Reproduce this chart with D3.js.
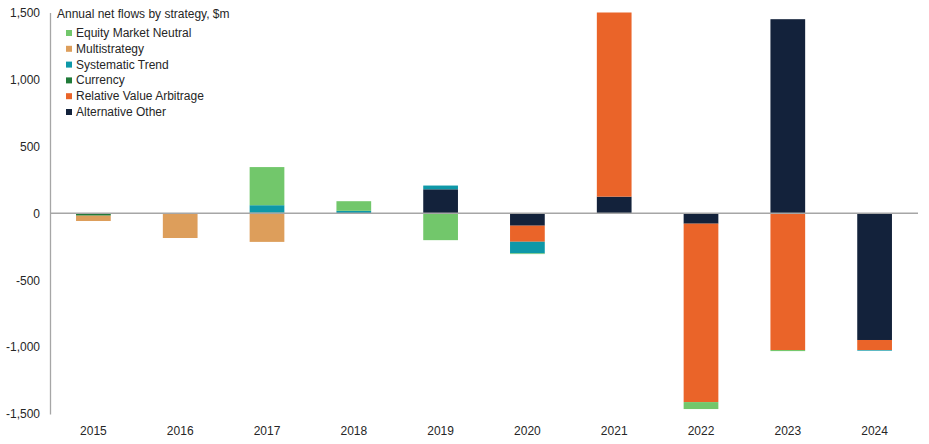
<!DOCTYPE html>
<html>
<head>
    <meta charset="utf-8">
    <script src="https://cdn.jsdelivr.net/npm/d3@7"></script>
    <style>
        body { margin: 0; background: #fff; }
        text { font-family: "Liberation Sans", Arial, sans-serif; fill: #262626; }
    </style>
</head>
<body>
    <svg width="929" height="444"></svg>
    <script>
        // Years on the x axis
        const years = ["2015", "2016", "2017", "2018", "2019", "2020", "2021", "2022", "2023", "2024"];

        // Net flows per strategy, $m
        const equityMarketNeutral = [0, 0, 285, 72, -201, -5, 0, -52, -8, 0];
        const multistrategy = [-40, -185, -214, 0, 0, 0, 0, 0, 0, 0];
        const systematicTrend = [0, 0, 55, 18, 28, -87, 0, 0, 0, -5];
        const currency = [-18, 0, 5, 0, 0, 0, 0, 0, 0, 0];
        const relativeValueArbitrage = [0, 0, 0, 0, 0, -120, 1376, -1333, -1022, -75];
        const alternativeOther = [0, 0, 0, 0, 179, -93, 124, -78, 1450, -947];

        const seriesNames = ["Equity Market Neutral", "Multistrategy", "Systematic Trend",
            "Currency", "Relative Value Arbitrage", "Alternative Other"];
        const seriesValues = [equityMarketNeutral, multistrategy, systematicTrend,
            currency, relativeValueArbitrage, alternativeOther];
        const colors = ["#72c76b", "#dd9e5b", "#0e98a8", "#1f7a38", "#ea6429", "#13223b"];

        const yTicks = [-1500, -1000, -500, 0, 500, 1000, 1500];

        // rows for d3.stack
        const rows = years.map((yr, i) => {
            const r = { year: yr };
            seriesNames.forEach((s, j) => r[s] = seriesValues[j][i]);
            return r;
        });

        const svg = d3.select("svg");
        const plotLeft = 50, plotRight = 918, plotTop = 12.5, plotBottom = 414;

        const x = d3.scaleBand().domain(years).range([plotLeft, plotRight])
            .paddingInner(0.6).paddingOuter(0.3);
        const y = d3.scaleLinear().domain([-1500, 1500]).range([plotBottom, plotTop]);

        // Excel stacks the last legend entry nearest the axis
        const stackKeys = seriesNames.slice().reverse();
        const stacked = d3.stack().keys(stackKeys).offset(d3.stackOffsetDiverging)(rows);

        const color = d3.scaleOrdinal().domain(seriesNames).range(colors);

        svg.append("g")
            .selectAll("g")
            .data(stacked)
            .join("g")
            .attr("fill", d => color(d.key))
            .selectAll("rect")
            .data(d => d)
            .join("rect")
            .attr("x", d => x(d.data.year))
            .attr("y", d => y(Math.max(d[0], d[1])))
            .attr("width", x.bandwidth())
            .attr("height", d => Math.abs(y(d[0]) - y(d[1])));

        // y axis (line + labels, no tick marks), plain hyphen for negatives
        const fmt = d3.format(",");
        const yAxis = svg.append("g")
            .attr("transform", `translate(${plotLeft},0)`)
            .call(d3.axisLeft(y).tickValues(yTicks).tickSize(0).tickPadding(10)
                .tickFormat(d => fmt(d).replace("\u2212", "-")));
        yAxis.select(".domain").attr("stroke", "#a6a6a6").attr("stroke-width", 1.3);
        yAxis.selectAll("text").style("font-size", "12px")
            .style("font-family", "'Liberation Sans', Arial, sans-serif").attr("fill", "#262626");

        // zero line with category labels at the bottom
        svg.append("line")
            .attr("x1", plotLeft).attr("x2", plotRight)
            .attr("y1", y(0)).attr("y2", y(0))
            .attr("stroke", "#a6a6a6").attr("stroke-width", 1.3);

        const xAxis = svg.append("g")
            .attr("transform", `translate(0,${plotBottom + 6})`)
            .call(d3.axisBottom(x).tickSize(0).tickPadding(6));
        xAxis.select(".domain").remove();
        xAxis.selectAll("text").style("font-size", "12px")
            .style("font-family", "'Liberation Sans', Arial, sans-serif").attr("fill", "#262626");

        // legend
        const legend = svg.append("g");
        legend.append("text")
            .attr("x", 57).attr("y", 18)
            .style("font-size", "12px")
            .text("Annual net flows by strategy, $m");

        const item = legend.selectAll(".item")
            .data(seriesNames)
            .join("g")
            .attr("class", "item")
            .attr("transform", (d, i) => `translate(66,${33 + i * 15.8})`);
        item.append("rect")
            .attr("x", 0).attr("y", -3)
            .attr("width", 6).attr("height", 6)
            .attr("fill", d => color(d));
        item.append("text")
            .attr("x", 10).attr("y", 4)
            .style("font-size", "12px")
            .text(d => d);
    </script>
</body>
</html>
